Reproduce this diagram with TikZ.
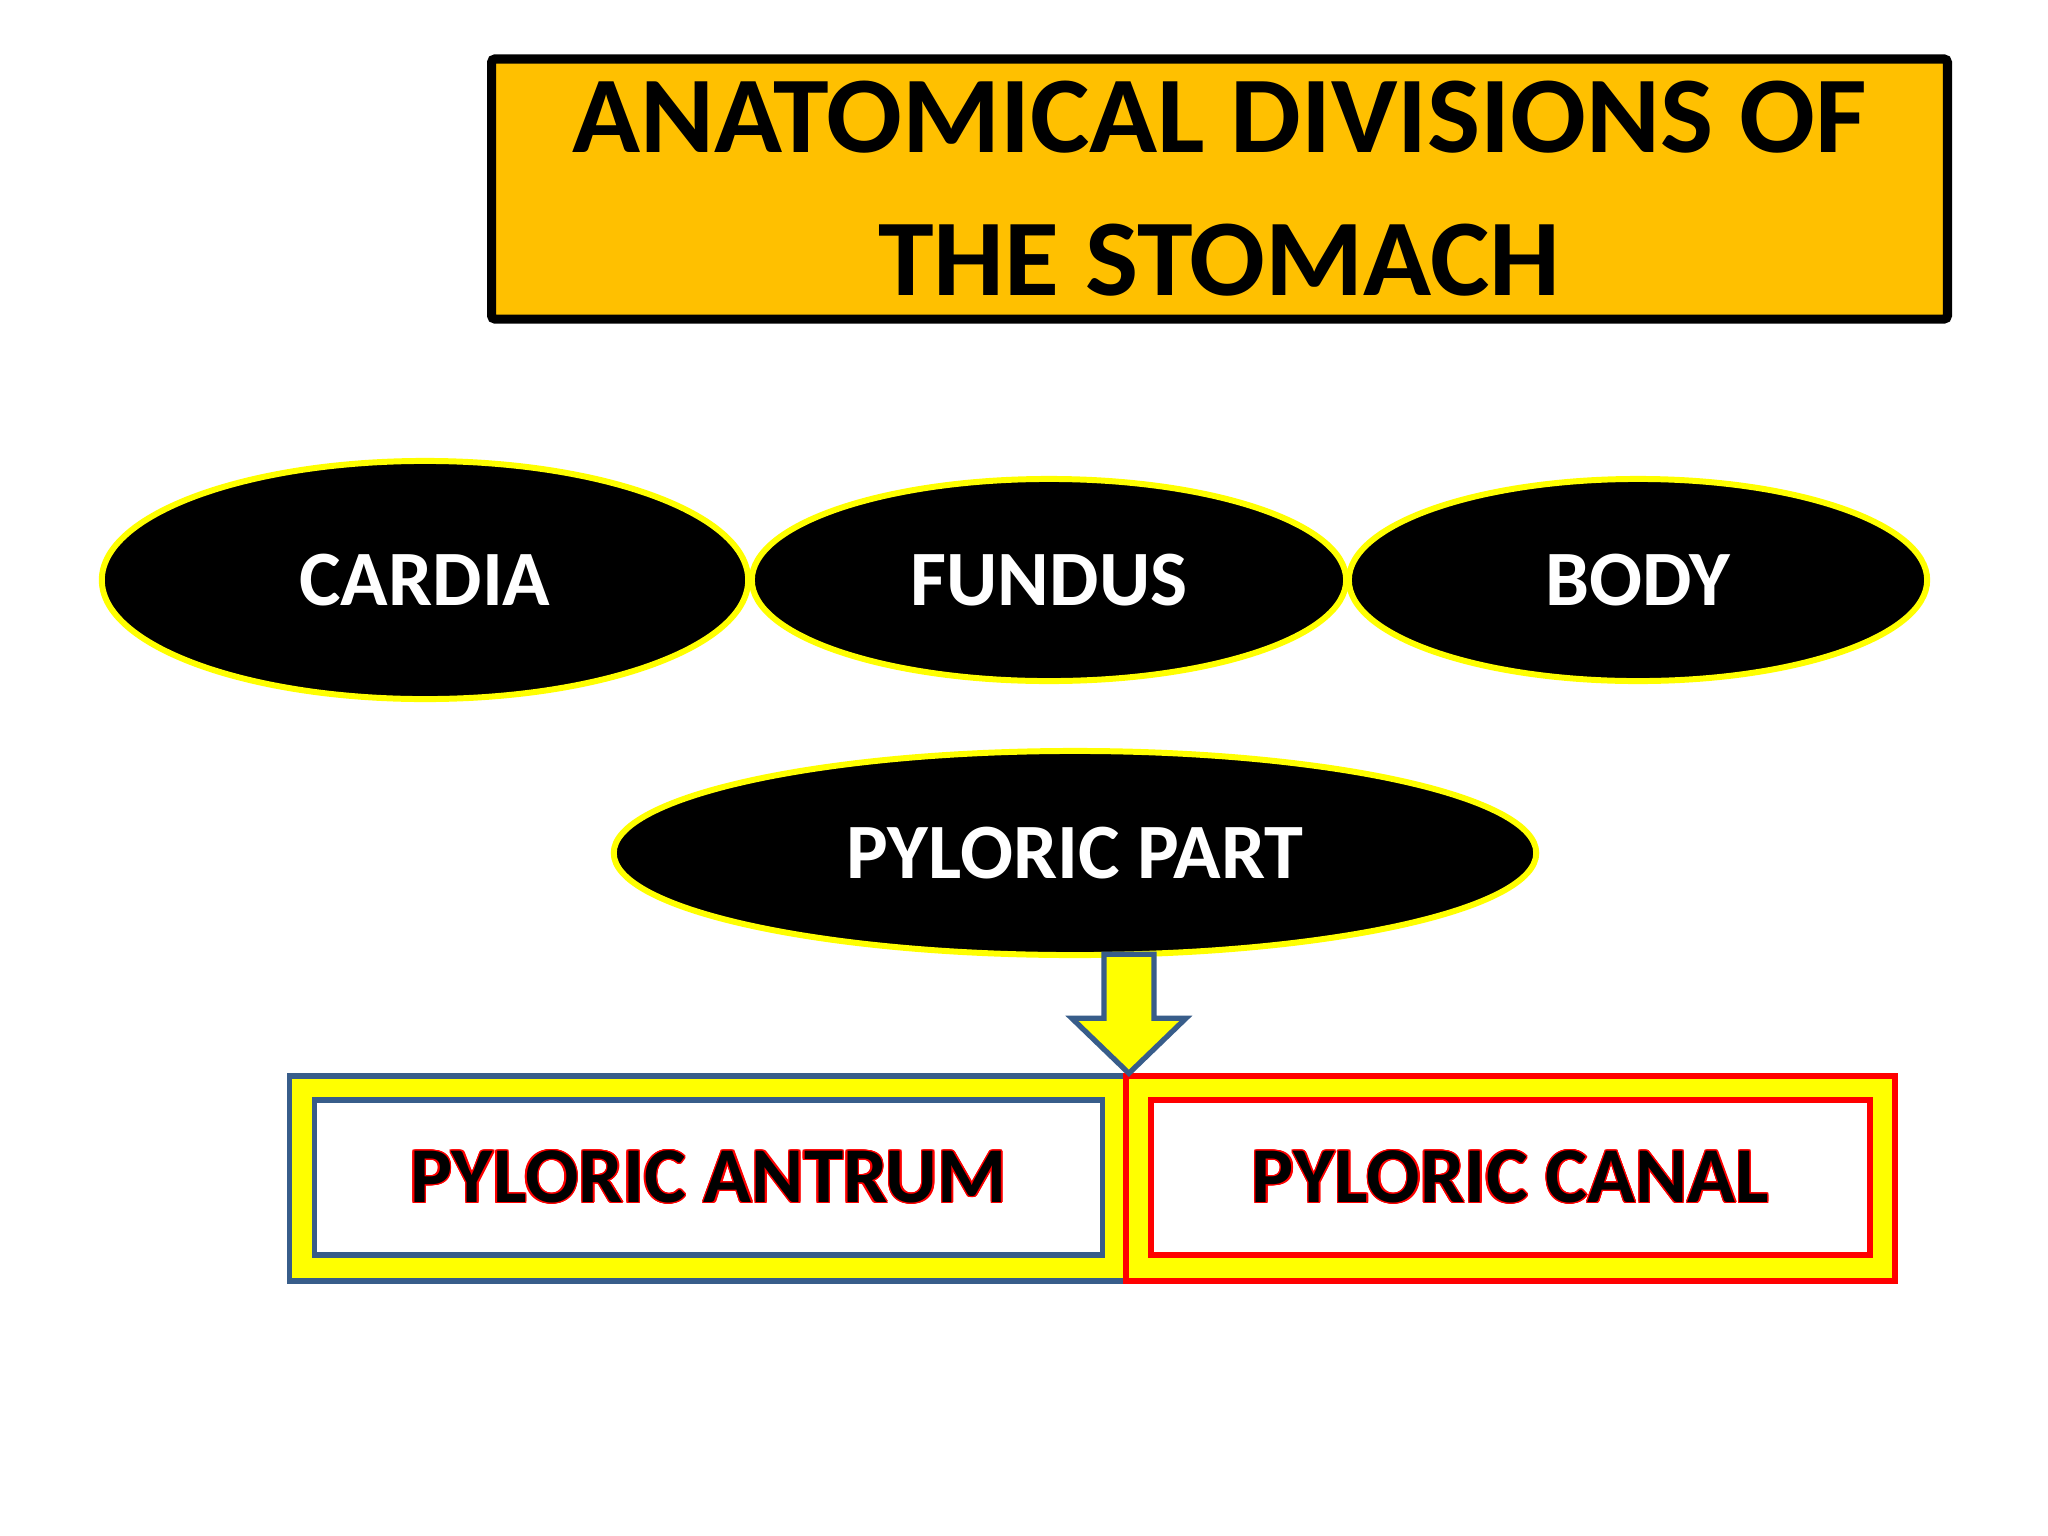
\documentclass[tikz,border=0pt]{standalone}
\usepackage{fontspec}
\setmainfont{Carlito}
\usepackage{contour}
\contourlength{0.4pt}
\usetikzlibrary{shapes.geometric}

\definecolor{titlegold}{HTML}{FFC000}
\definecolor{slateblue}{HTML}{385D8A}
\definecolor{brightyellow}{HTML}{FFFF00}

\tikzset{
  titlebox/.style={draw=black, fill=titlegold, line width=2.6pt, rounded corners=1pt,
    align=center, font=\fontsize{31}{39.5}\selectfont\bfseries},
  partoval/.style={ellipse, draw=brightyellow, fill=black, line width=1.7pt, inner sep=0pt,
    text=white, font=\fontsize{22.3}{27}\selectfont\bfseries},
  frameblue/.style={draw=slateblue, fill=brightyellow, line width=1.5pt, inner sep=0pt},
  framered/.style={draw=red, fill=brightyellow, line width=1.7pt, inner sep=0pt},
  innerblue/.style={draw=slateblue, fill=white, line width=1.5pt, inner sep=0pt,
    font=\fontsize{22.5}{27}\selectfont\bfseries},
  innerred/.style={draw=red, fill=white, line width=1.7pt, inner sep=0pt,
    font=\fontsize{22.5}{27}\selectfont\bfseries},
  blockarrow/.style={draw=slateblue, fill=brightyellow, line width=1.5pt, line join=miter}
}

\begin{document}
\begin{tikzpicture}[x=0.01cm, y=-0.01cm]
  \useasboundingbox[fill=white] (0,0) rectangle (2048,1536);

  % ---- Titel ----
  \node[titlebox, minimum width=14.55cm, minimum height=2.60cm] (title) at (1219.5,189)
    {\scalebox{1.03}[1]{ANATOMICAL DIVISIONS OF}\\[0.04cm]\scalebox{1.03}[1]{THE STOMACH}};

  % ---- Teile (obere Reihe) ----
  \node[partoval, minimum width=6.46cm, minimum height=2.38cm] (cardia) at (425,580) {CARDIA};
  \node[partoval, minimum width=5.94cm, minimum height=2.02cm] (fundus) at (1049,580) {FUNDUS};
  \node[partoval, minimum width=5.78cm, minimum height=2.02cm] (body) at (1638,580) {BODY};

  % ---- Pars pylorica ----
  \node[partoval, minimum width=9.22cm, minimum height=2.04cm] (pylpart) at (1075,853) {PYLORIC PART};

  % ---- Rahmen unten ----
  \node[frameblue, minimum width=8.36cm, minimum height=2.05cm] (antrumframe) at (708,1178.5) {};
  \node[framered, minimum width=7.69cm, minimum height=2.05cm] (canalframe) at (1510.5,1178.5) {};
  \node[innerblue, minimum width=7.87cm, minimum height=1.55cm] (antrum) at (708.5,1177.5)
    {\contour{red}{PYLORIC ANTRUM}};
  \node[innerred, minimum width=7.19cm, minimum height=1.55cm] (canal) at (1510.5,1177.5)
    {\contour{red}{PYLORIC CANAL}};

  % ---- Blockpfeil ----
  \coordinate (tip) at (antrumframe.north east);
  \draw[blockarrow] (tip) -- ++(-57,-55) -- ++(32,0) -- ++(0,-64) -- ++(50,0)
    -- ++(0,64) -- ++(32,0) -- cycle;
\end{tikzpicture}
\end{document}
